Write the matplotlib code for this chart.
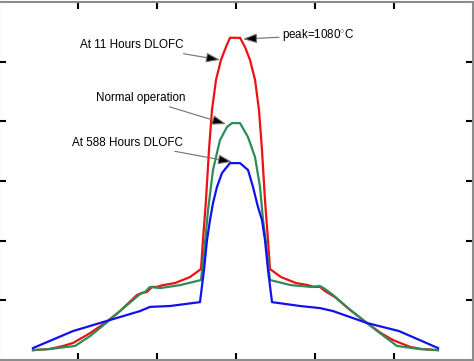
import matplotlib
matplotlib.use("Agg")
import matplotlib.pyplot as plt

plt.rcParams['font.family'] = ['Liberation Sans', 'DejaVu Sans']
plt.rcParams['mathtext.fontset'] = 'custom'
plt.rcParams['mathtext.rm'] = 'Liberation Sans'

# Position along axis (arbitrary units) and temperature (deg C)
red_x = [0.430, 0.646, 0.810, 0.937, 1.152, 1.342, 1.532, 1.747, 1.810, 1.873, 1.937, 2.000,
         2.076, 2.228, 2.418, 2.557, 2.582, 2.620, 2.658, 2.696, 2.747, 2.810, 2.873, 2.924,
         3.051, 3.114, 3.177, 3.241, 3.291, 3.329, 3.367, 3.405, 3.430, 3.570, 3.759, 3.911,
         3.987, 4.063, 4.127, 4.190, 4.253, 4.443, 4.658, 4.835, 4.987, 5.203, 5.342, 5.557]
red_y = [33, 37, 47, 57, 90, 124, 164, 218, 225, 228, 245, 245,
         251, 258, 278, 305, 402, 536, 704, 838, 939, 1006, 1049, 1080,
         1080, 1049, 1006, 939, 838, 704, 536, 402, 305, 278, 258, 251,
         245, 245, 231, 221, 211, 168, 124, 90, 67, 44, 37, 33]

green_x = [0.430, 0.646, 0.962, 1.152, 1.342, 1.532, 1.785, 1.848, 1.911, 2.038, 2.291, 2.557,
           2.608, 2.646, 2.709, 2.797, 2.886, 2.949, 3.051, 3.152, 3.241, 3.304, 3.342, 3.380,
           3.430, 3.696, 3.949, 4.063, 4.127, 4.228, 4.418, 4.608, 4.823, 5.038, 5.316, 5.557]
green_y = [33, 37, 47, 80, 121, 164, 221, 228, 245, 241, 251, 268,
           392, 503, 637, 737, 781, 794, 794, 747, 680, 580, 469, 392,
           268, 251, 245, 248, 238, 218, 174, 134, 90, 47, 37, 33]

blue_x = [0.430, 0.937, 1.316, 1.785, 1.911, 2.165, 2.544, 2.595, 2.633, 2.671, 2.709, 2.759,
          2.823, 2.924, 3.051, 3.152, 3.215, 3.278, 3.329, 3.367, 3.405, 3.456, 3.810, 4.063,
          4.228, 4.658, 5.063, 5.557]
blue_y = [40, 97, 127, 164, 178, 181, 194, 302, 402, 469, 526, 580,
          627, 660, 660, 637, 580, 513, 469, 402, 302, 194, 181, 174,
          164, 124, 97, 40]

fig = plt.figure(figsize=(4.74, 3.61), dpi=100)
ax = fig.add_axes([-1/474, 1/361, 474/474, 358/361])

ax.plot(red_x, red_y, color='#ee1111', lw=1.6)
ax.plot(green_x, green_y, color='#2e8b57', lw=1.6)
ax.plot(blue_x, blue_y, color='#1111ee', lw=1.6)

ax.set_xlim(0, 6)
ax.set_ylim(0, 1200)
ax.set_xticks([1, 2, 3, 4, 5])
ax.set_yticks([200, 400, 600, 800, 1000])
ax.tick_params(direction='in', length=5, width=1.5, color='black',
               top=True, right=True, labelbottom=False, labelleft=False)
for s in ax.spines.values():
    s.set_color('#8c8c8c')
    s.set_linewidth(1.5)

ap = dict(arrowstyle='-|>,head_length=1.0,head_width=0.35', fc='black', ec='#707070', lw=0.8,
          shrinkA=0, shrinkB=0)
fs = 8.4
ax.annotate('At 11 Hours DLOFC', xy=(2.797, 1006), xytext=(2.33, 1056),
            ha='right', va='center', fontsize=fs, arrowprops=ap)
ax.annotate('Normal operation', xy=(2.873, 791), xytext=(2.36, 878),
            ha='right', va='center', fontsize=fs, arrowprops=ap)
ax.annotate('At 588 Hours DLOFC', xy=(2.949, 664), xytext=(2.33, 729),
            ha='right', va='center', fontsize=fs, arrowprops=ap)
ax.annotate('peak=1080$^{\\circ}$C', xy=(3.089, 1076), xytext=(3.58, 1088),
            ha='left', va='center', fontsize=fs, arrowprops=ap)

fig.savefig('out.png', dpi=100)
